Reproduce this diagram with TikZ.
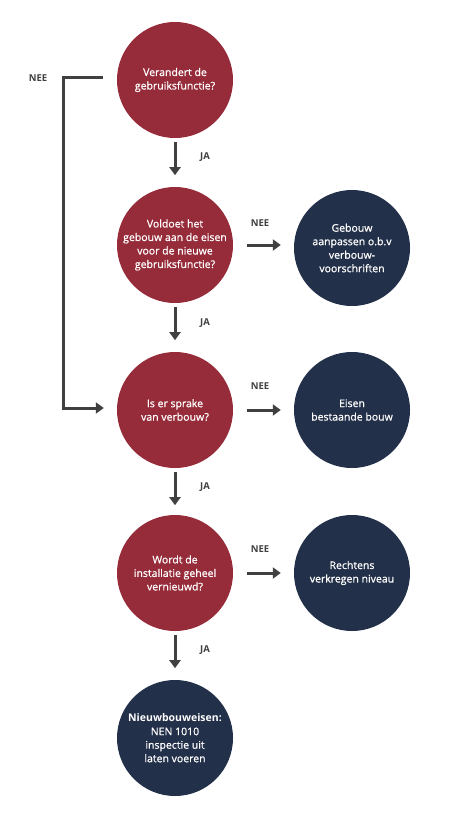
\documentclass[tikz,border=0pt]{standalone}
\usepackage{fontspec}
\setmainfont{Open Sans}
\newfontfamily\semib{Open Sans}[FakeBold=0.8]
\usetikzlibrary{arrows.meta}
\definecolor{qred}{HTML}{962B39}
\definecolor{qblue}{HTML}{23304A}
\definecolor{qgray}{HTML}{404040}
\begin{document}
\begin{tikzpicture}[x=1pt,y=-1pt,
  redc/.style={circle,fill=qred,minimum size=116pt,inner sep=0pt,text=white,align=center,font=\fontsize{10.5}{13.5}\selectfont\semib},
  bluec/.style={circle,fill=qblue,minimum size=116pt,inner sep=0pt,text=white,align=center,font=\fontsize{10.5}{13.5}\selectfont\semib},
  conn/.style={qgray,line width=3pt,-{Triangle[length=8pt,width=11pt]}},
  plain/.style={qgray,line width=3pt},
  lbl/.style={text=qgray,font=\fontsize{9.5}{11}\selectfont\bfseries,inner sep=0pt}]
\useasboundingbox (0,0) rectangle (474,813);
\node[redc] (q1) at (175,80) {Verandert de\\gebruiksfunctie?};
\node[redc] (q2) at (175,245) {Voldoet het\\gebouw aan de eisen\\voor de nieuwe\\gebruiksfunctie?};
\node[bluec] (a2) at (352,248) {Gebouw\\aanpassen o.b.v\\verbouw-\\voorschriften};
\node[redc] (q3) at (175,410) {Is er sprake\\van verbouw?};
\node[bluec] (a3) at (352,410) {Eisen\\bestaande bouw};
\node[redc] (q4) at (175,573) {Wordt de\\installatie geheel\\vernieuwd?};
\node[bluec] (a4) at (352,573) {Rechtens\\verkregen niveau};
\node[bluec] (a5) at (175,738) {{\normalfont\bfseries Nieuwbouweisen:}\\NEN 1010\\inspectie uit\\laten voeren};
% vertical arrows
\draw[conn] ([yshift=-4pt]q1.south) -- ([yshift=-37pt]q1.south);
\draw[conn] ([yshift=-4pt]q2.south) -- ([yshift=-37pt]q2.south);
\draw[conn] ([yshift=-4pt]q3.south) -- ([yshift=-37pt]q3.south);
\draw[conn] ([yshift=-4pt]q4.south) -- ([yshift=-37pt]q4.south);
\node[lbl] (l1) at (205,157) {JA};
\node[lbl] (l2) at (205,323) {JA};
\node[lbl] (l3) at (205,487) {JA};
\node[lbl] (l4) at (205,650) {JA};
% horizontal arrows
\draw[conn] ([xshift=14pt]q2.east) -- ([xshift=-13pt]a2.west |- q2.east);
\draw[conn] ([xshift=14pt]q3.east) -- ([xshift=-13pt]a3.west);
\draw[conn] ([xshift=14pt]q4.east) -- ([xshift=-13pt]a4.west);
\node[lbl] (n2) at (260,223) {NEE};
\node[lbl] (n3) at (260,386) {NEE};
\node[lbl] (n4) at (260,549) {NEE};
% NEE loop
\coordinate (c1) at (63,78);
\coordinate (c2) at (63,408);
\draw[plain,line cap=butt] ([xshift=-14pt]q1.west |- c1) -- (c1) -- (c2);
\draw[conn] ([xshift=-1.5pt]c2) -- ([xshift=-13pt]q3.west |- c2);
\node[lbl] (n1) at (38,78) {NEE};
\end{tikzpicture}
\end{document}
